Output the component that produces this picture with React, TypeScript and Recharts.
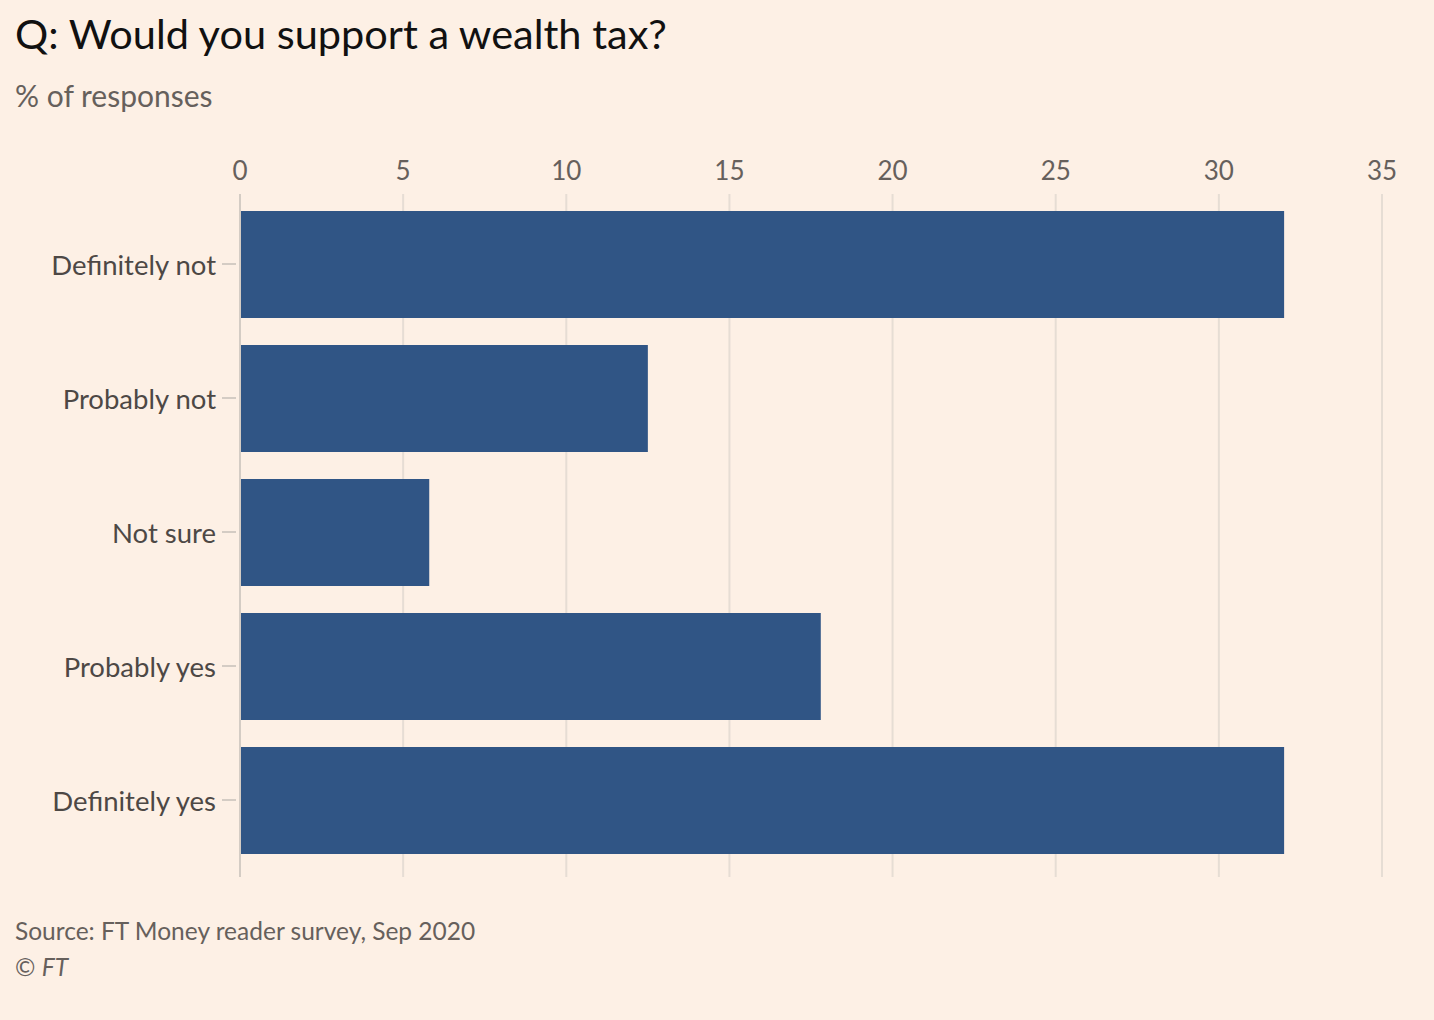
import React from 'react';
import { BarChart, Bar, XAxis, YAxis, CartesianGrid } from 'recharts';

const categories = ['Definitely not', 'Probably not', 'Not sure', 'Probably yes', 'Definitely yes'];
const responses = [32.0, 12.5, 5.8, 17.8, 32.0];
const xTicks = [0, 5, 10, 15, 20, 25, 30, 35];

const title = 'Q: Would you support a wealth tax?';
const subtitle = '% of responses';
const source = 'Source: FT Money reader survey, Sep 2020';

const data = categories.map((name, i) => ({ name, value: responses[i] }));

const FONT = 'Lato, "Open Sans", sans-serif';

const XTick = (props: any) => {
  const { x, payload } = props;
  return (
    <text x={x} y={170} textAnchor="middle" dominantBaseline="central" fill="#66605c" fontSize={26} fontFamily={FONT}>
      {payload.value}
    </text>
  );
};

const YTick = (props: any) => {
  const { y, payload } = props;
  return (
    <g>
      <line x1={222} x2={236} y1={y} y2={y} stroke="#d4ccc4" strokeWidth={2} />
      <text x={216} y={y} textAnchor="end" dominantBaseline="central" fill="#4d4845" fontSize={27.5} fontFamily={FONT}>
        {payload.value}
      </text>
    </g>
  );
};

export default function App() {
  return (
    <div style={{ position: 'absolute', left: 0, top: 0, width: 1434, height: 1020, background: '#fdf0e5', fontFamily: FONT, overflow: 'hidden' }}>
      <div style={{ position: 'absolute', left: 15, top: 11, fontSize: 41.5, lineHeight: '44px', color: '#111111', whiteSpace: 'nowrap' }}>{title}</div>
      <div style={{ position: 'absolute', left: 15, top: 79, fontSize: 30, lineHeight: '32px', color: '#66605c', whiteSpace: 'nowrap' }}>{subtitle}</div>
      <div style={{ position: 'absolute', left: 0, top: 0 }}>
        <BarChart
          width={1434}
          height={1020}
          data={data}
          layout="vertical"
          margin={{ top: 134, right: 52, bottom: 143, left: 0 }}
        >
          <CartesianGrid horizontal={false} vertical={true} stroke="#e6ddd4" strokeWidth={2} />
          <XAxis
            type="number"
            orientation="top"
            domain={[0, 35]}
            ticks={xTicks}
            height={60}
            axisLine={false}
            tickLine={false}
            tick={<XTick />}
            interval={0}
          />
          <YAxis
            type="category"
            dataKey="name"
            width={240}
            axisLine={{ stroke: '#d4ccc4', strokeWidth: 2 }}
            tickLine={false}
            tick={<YTick />}
            padding={{ top: 3, bottom: 10 }}
            interval={0}
          />
          <Bar dataKey="value" fill="#305585" barSize={107} isAnimationActive={false} />
        </BarChart>
      </div>
      <div style={{ position: 'absolute', left: 15, top: 917, fontSize: 24.5, lineHeight: '28px', color: '#66605c', whiteSpace: 'nowrap' }}>{source}</div>
      <div style={{ position: 'absolute', left: 15, top: 953, fontSize: 24.5, lineHeight: '28px', color: '#66605c', whiteSpace: 'nowrap' }}>
        © <span style={{ fontStyle: 'italic' }}>FT</span>
      </div>
    </div>
  );
}
